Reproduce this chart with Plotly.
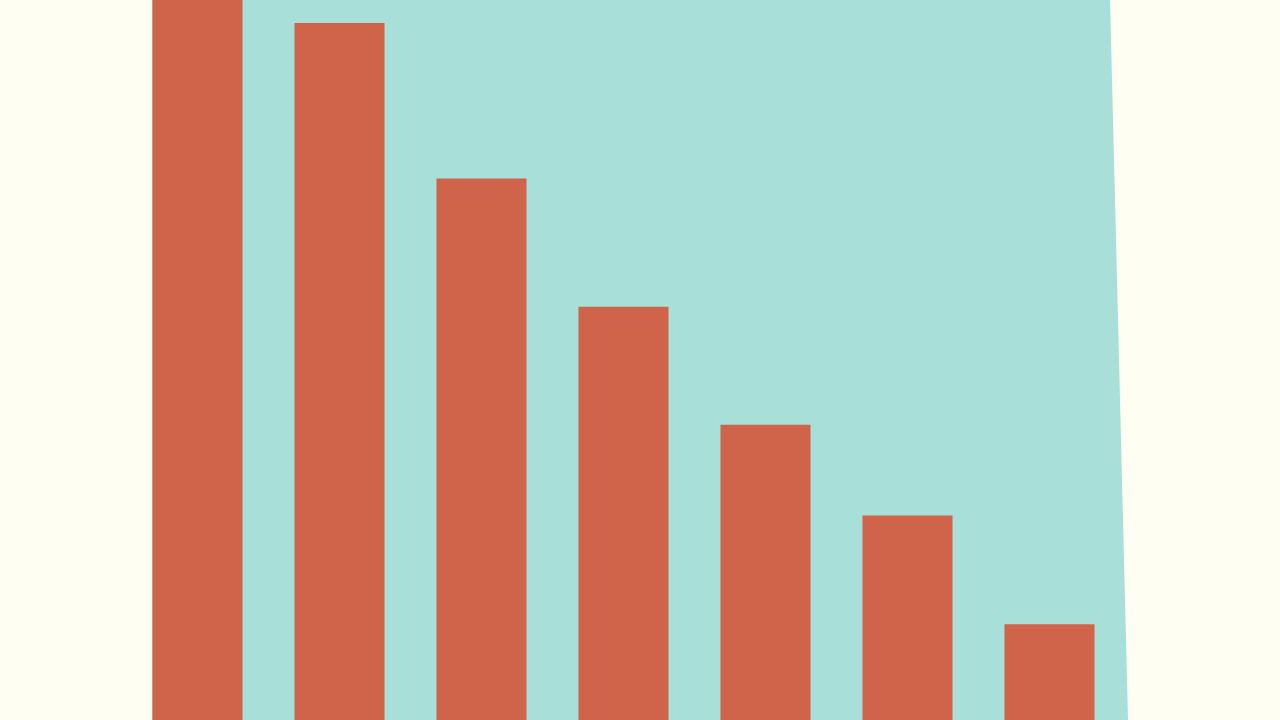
import plotly.graph_objects as go

categories = [0, 1, 2, 3, 4, 5, 6]
values = [104.0, 96.8, 75.2, 57.4, 41.0, 28.4, 13.3]

BAR = "#D0644A"
TEAL = "#A8DFD8"
CREAM = "#FFFEF3"

fig = go.Figure()
fig.add_trace(go.Bar(x=categories, y=values, width=0.634,
                     marker=dict(color=BAR, line=dict(width=0))))

fig.update_layout(
    width=1280, height=720,
    margin=dict(l=0, r=0, t=0, b=0),
    paper_bgcolor=CREAM,
    plot_bgcolor="rgba(0,0,0,0)",
    showlegend=False,
    xaxis=dict(range=[-1.3908, 7.6233], visible=False, fixedrange=True),
    yaxis=dict(range=[0, 100], visible=False, fixedrange=True),
    shapes=[dict(type="path", xref="paper", yref="paper", layer="below",
                 path="M 0.11875 0 L 0.88125 0 L 0.8672 1 L 0.11875 1 Z",
                 fillcolor=TEAL, line=dict(width=0))],
)

fig.write_html(
    "out.html",
    config={"displayModeBar": False},
    post_script="document.body.style.margin='0';document.body.style.overflow='hidden';document.body.style.background='" + CREAM + "';",
)
